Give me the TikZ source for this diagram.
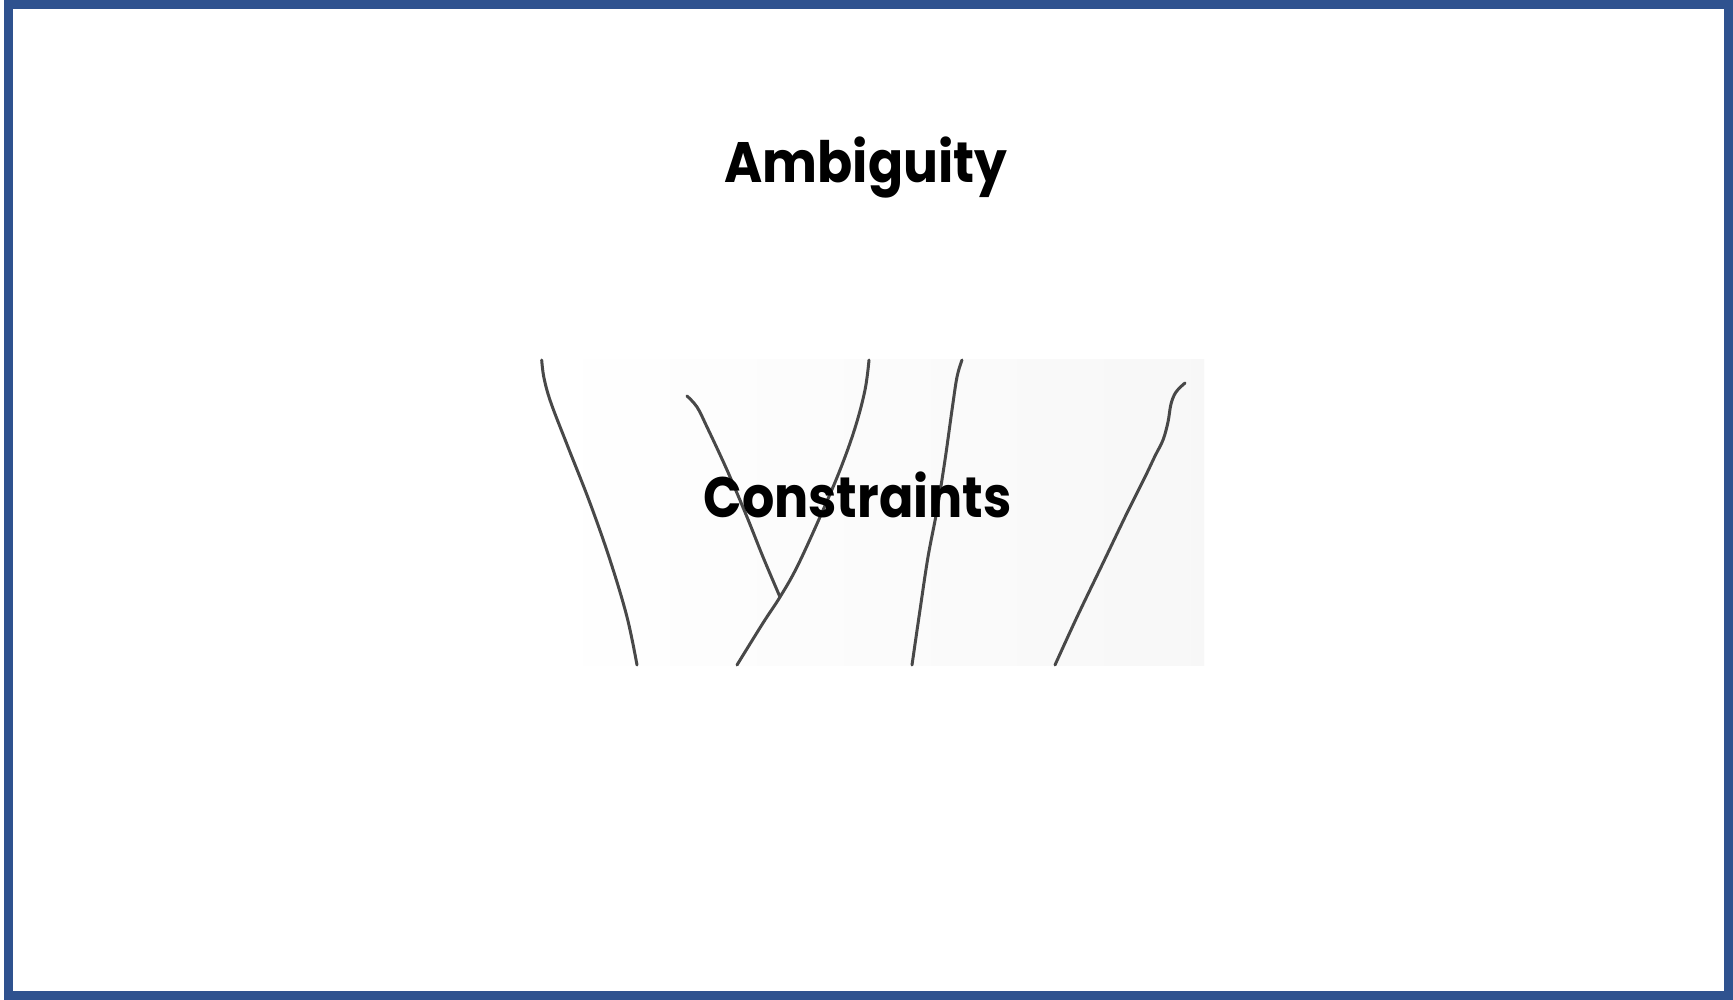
\documentclass[tikz,border=0pt]{standalone}
\usepackage{fontspec}
\setmainfont{Poppins}
\definecolor{frameblue}{RGB}{47,82,143}
\definecolor{stroke}{RGB}{72,72,72}
\begin{document}
\begin{tikzpicture}[x=1pt,y=-1pt,
  title/.style={font=\bfseries\fontsize{57}{60}\selectfont, inner sep=0pt, anchor=base},
  curve/.style={draw=stroke, line width=3pt, line cap=round, line join=round}]
\useasboundingbox (0,0) rectangle (1733,1000);
\fill[white] (0,0) rectangle (1733,1000);
% picture background
\shade[left color=white, right color=black!3] (539,360) rectangle (1204,665);
% curves
\draw[curve] plot[smooth, tension=0.6] coordinates {(541.7,360) (544,378) (551,403) (568,447) (590,503) (610,560) (627,617) (637,665)};
\draw[curve] plot[smooth, tension=0.6] coordinates {(687,396) (697,407) (707,427) (727,470) (747,517) (763,557) (780,597)};
\draw[curve] plot[smooth, tension=0.6] coordinates {(869,360) (865,390) (855,428) (840,470) (820,517) (797,567) (780,597) (763,623) (737,665)};
\draw[curve] plot[smooth, tension=0.6] coordinates {(962,360) (957,377) (952,410) (945,460) (937,510) (928,557) (920,610) (912,665)};
\draw[curve] plot[smooth, tension=0.6] coordinates {(1185,383) (1176,392) (1171,404) (1168,422) (1163,440) (1155,456) (1145,477) (1127,513) (1103,563) (1077,617) (1055,665)};
% texts
\node[title] (amb) at (866,183) {\scalebox{0.91}[1]{Ambiguity}};
\node[title] (con) at (857.5,517) {\scalebox{0.89}[1]{Constraints}};
% frame
\draw[frameblue, line width=9pt] (8.5,4.5) rectangle (1728.5,995.5);
\end{tikzpicture}
\end{document}
